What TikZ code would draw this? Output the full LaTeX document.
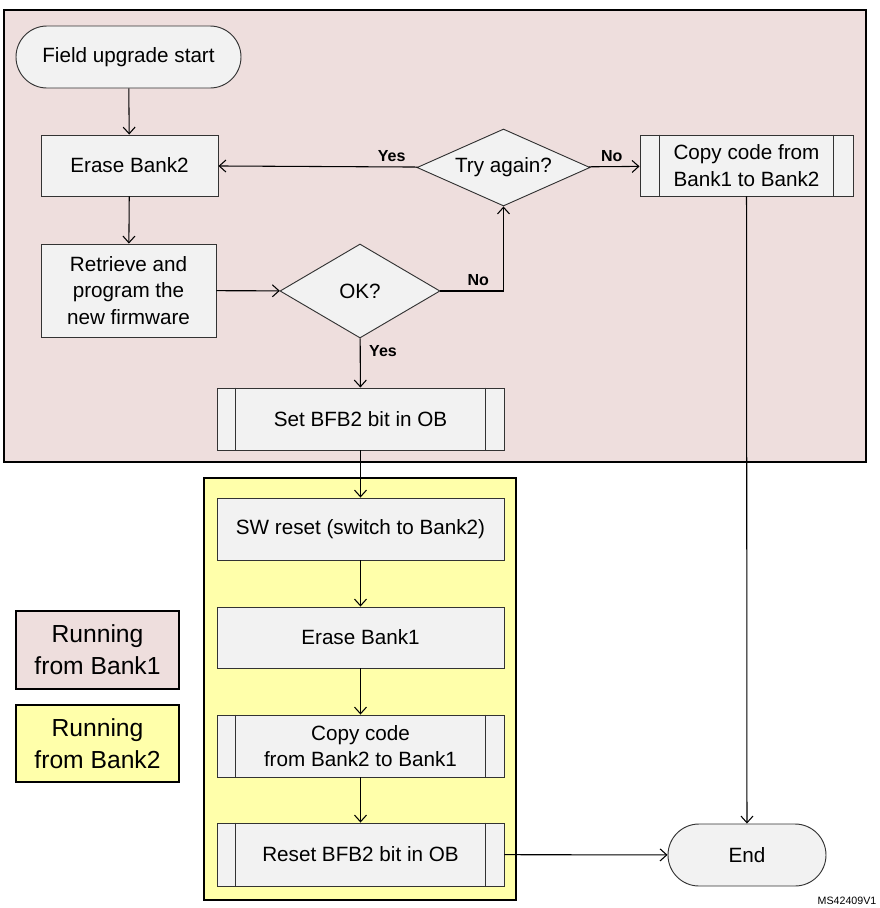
\documentclass[tikz,border=0pt]{standalone}
\usepackage{fontspec}
\setmainfont{Liberation Sans}
\usetikzlibrary{shapes.geometric,arrows.meta}
\definecolor{pinkbg}{HTML}{EEDEDD}
\definecolor{yelbg}{HTML}{FFFFAA}
\definecolor{boxfill}{HTML}{F2F2F2}
\begin{document}
\begin{tikzpicture}[x=0.75pt,y=-0.75pt,
  box/.style={draw=black!80,fill=boxfill,line width=0.7pt,align=center,font=\fontsize{15.5}{20}\selectfont,inner sep=0pt},
  lbl/.style={font=\bfseries\fontsize{12}{14}\selectfont},
  arr/.style={-{Straight Barb[length=5pt,width=9pt]},line width=0.8pt},
]
\useasboundingbox (0,0) rectangle (880,908);
\fill[pinkbg] (4,10) rectangle (866,462); \draw[line width=0.8pt] (4,10) rectangle (866,462);
\fill[yelbg] (204,478) rectangle (516,900); \draw[line width=0.8pt] (204,478) rectangle (516,900);
\node[draw,fill=pinkbg,line width=0.8pt,minimum width=163*0.75pt,minimum height=78*0.75pt,align=center,font=\fontsize{18.5}{24}\selectfont,inner sep=0pt] (l1) at (97.5,650) {Running\\from Bank1};
\node[draw,fill=yelbg,line width=0.8pt,minimum width=163*0.75pt,minimum height=77*0.75pt,align=center,font=\fontsize{18.5}{24}\selectfont,inner sep=0pt] (l2) at (97.5,743.5) {Running\\from Bank2};
\node[box,rounded corners=31*0.75pt,minimum width=225*0.75pt,minimum height=62*0.75pt] (start) at (128.5,57) {Field upgrade start};
\node[box,minimum width=177*0.75pt,minimum height=61*0.75pt] (e2) at (129.5,165.5) {Erase Bank2};
\node[box,minimum width=175*0.75pt,minimum height=93*0.75pt] (ret) at (128.5,290.5) {Retrieve and\\program the\\new firmware};
\node[box,diamond,aspect=1.7,minimum width=160*0.75pt,minimum height=94*0.75pt] (ok) at (360,291) {OK?};
\node[box,diamond,aspect=2.2,minimum width=173*0.75pt,minimum height=77*0.75pt] (try) at (503.5,167.5) {Try again?};
\node[box,minimum width=213*0.75pt,minimum height=61*0.75pt] (c12) at (746.5,165.5) {Copy code from\\Bank1 to Bank2};
\node[box,minimum width=287*0.75pt,minimum height=62*0.75pt] (set) at (360.5,419) {Set BFB2 bit in OB};
\node[box,minimum width=287*0.75pt,minimum height=62*0.75pt] (sw) at (360.5,529) {SW reset (switch to Bank2)};
\node[box,minimum width=287*0.75pt,minimum height=61*0.75pt] (e1) at (360.5,637.5) {Erase Bank1};
\node[box,minimum width=287*0.75pt,minimum height=62*0.75pt] (c21) at (360.5,746) {Copy code\\from Bank2 to Bank1};
\node[box,minimum width=287*0.75pt,minimum height=63*0.75pt] (rst) at (360.5,854.5) {Reset BFB2 bit in OB};
\node[box,rounded corners=31*0.75pt,minimum width=158*0.75pt,minimum height=62*0.75pt] (end) at (747,855) {End};
\foreach \n/\d in {c12/20,set/19,c21/19,rst/19}{
  \draw[black!80,line width=0.7pt] ([xshift=\d*0.75pt]\n.north west) -- ([xshift=\d*0.75pt]\n.south west);
  \draw[black!80,line width=0.7pt] ([xshift=-\d*0.75pt]\n.north east) -- ([xshift=-\d*0.75pt]\n.south east);
}
\draw[arr] (start) -- (e2);
\draw[arr] (e2) -- (ret);
\draw[arr] (ret) -- (ok);
\draw[arr] (ok.east) -| (try.south) node[lbl,pos=0.3,above] {No};
\draw[arr] (ok) -- (set) node[lbl,pos=0.25,right,xshift=3pt] {Yes};
\draw[arr] (try) -- (e2) node[lbl,pos=0.13,above] {Yes};
\draw[arr] (try) -- (c12) node[lbl,pos=0.45,above] {No};
\draw[arr] (c12) -- (end);
\draw[arr] (set) -- (sw);
\draw[arr] (sw) -- (e1);
\draw[arr] (e1) -- (c21);
\draw[arr] (c21) -- (rst);
\draw[arr] (rst) -- (end);
\node[anchor=south east,font=\fontsize{8}{9}\selectfont,inner sep=1pt] (ms) at (878,906) {MS42409V1};
\end{tikzpicture}
\end{document}
